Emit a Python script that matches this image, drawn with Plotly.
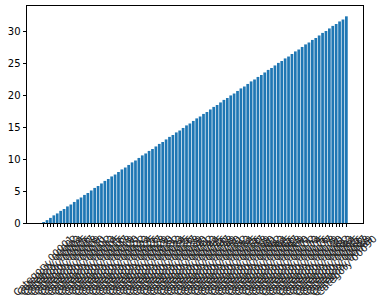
import plotly.graph_objects as go

values = [0.1, 0.45, 0.8, 1.2, 1.5, 1.9, 2.2, 2.6, 2.9, 3.3,
          3.7, 4.0, 4.4, 4.7, 5.1, 5.5, 5.8, 6.2, 6.6, 6.9,
          7.3, 7.6, 8.0, 8.4, 8.7, 9.1, 9.5, 9.8, 10.2, 10.6,
          10.9, 11.3, 11.6, 12.0, 12.4, 12.7, 13.1, 13.5, 13.8, 14.2,
          14.5, 14.9, 15.3, 15.6, 16.0, 16.4, 16.7, 17.1, 17.4, 17.8,
          18.2, 18.5, 18.9, 19.3, 19.6, 20.0, 20.3, 20.7, 21.1, 21.4,
          21.8, 22.2, 22.5, 22.9, 23.2, 23.6, 24.0, 24.3, 24.7, 25.1,
          25.4, 25.8, 26.1, 26.5, 26.9, 27.2, 27.6, 28.0, 28.3, 28.7,
          29.0, 29.4, 29.8, 30.1, 30.5, 30.9, 31.2, 31.6, 31.9, 32.4]
labels = ["Category 00%03d" % (i + 1) for i in range(len(values))]
positions = list(range(len(values)))
y_ticks = [0, 5, 10, 15, 20, 25, 30]

N = len(values)
span = N - 0.2
xr = [-0.4 - 0.05 * span, N - 0.6 + 0.05 * span]
yr = [0, max(values) * 1.05]

font = dict(family="DejaVu Sans", size=10, color="black")
label_font = dict(family="DejaVu Sans", size=10, color="#222222")

fig = go.Figure(go.Bar(x=positions, y=values, width=0.8,
                       marker=dict(color="#1f77b4", line=dict(width=0))))

annotations = [dict(x=p, y=0, xref="x", yref="paper", text=t, showarrow=False,
                    textangle=-45, xanchor="center", yanchor="top", yshift=-7,
                    font=label_font)
               for p, t in zip(positions, labels)]

fig.update_layout(
    width=383, height=303,
    margin=dict(l=27, r=20, t=6, b=79.5),
    paper_bgcolor="white", plot_bgcolor="white",
    showlegend=False,
    font=font,
    annotations=annotations,
    xaxis=dict(range=xr, tickvals=positions, showticklabels=False,
               ticks="outside", ticklen=3.5, tickwidth=0.8, tickcolor="black",
               showline=True, linecolor="black", linewidth=0.8, mirror=True,
               showgrid=False, zeroline=False),
    yaxis=dict(range=yr, tickvals=y_ticks, ticks="outside", ticklen=3.5,
               tickwidth=0.8, tickcolor="black",
               showline=True, linecolor="black", linewidth=0.8, mirror=True,
               showgrid=False, zeroline=False, tickfont=font),
)

fig.write_html("out.html")
